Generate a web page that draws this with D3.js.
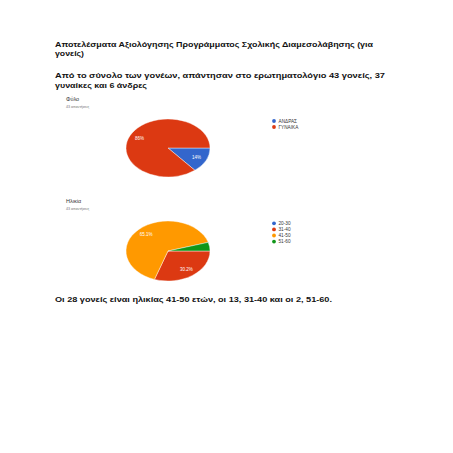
<!DOCTYPE html>
<html>
<head>
<meta charset="utf-8">
<script src="https://cdn.jsdelivr.net/npm/d3@7"></script>
<style>
  body { margin: 0; background: #fff; }
  svg { display: block; font-family: "Liberation Sans", Arial, sans-serif; }
</style>
</head>
<body>
<div id="chart"></div>
<script>
const headerLines = [
    "Αποτελέσματα Αξιολόγησης Προγράμματος Σχολικής Διαμεσολάβησης (για",
    "γονείς)"
];
const introLines = [
    "Από το σύνολο των γονέων, απάντησαν στο ερωτηματολόγιο 43 γονείς, 37",
    "γυναίκες και 6 άνδρες"
];
const footerLine = "Οι 28 γονείς είναι ηλικίας 41-50 ετών, οι 13, 31-40 και οι 2, 51-60.";

const genderTitle = "Φύλο";
const genderCategories = ["ΑΝΔΡΑΣ", "ΓΥΝΑΙΚΑ"];
const genderValues = [6, 37];
const genderLabels = ["14%", "86%"];

const ageTitle = "Ηλικία";
const ageCategories = ["20-30", "31-40", "41-50", "51-60"];
const ageValues = [0, 13, 28, 2];
const ageLabels = ["", "30.2%", "65.1%", "4.7%"];

const responses = "43 απαντήσεις";
const palette = ["#3366cc", "#dc3912", "#ff9900", "#109618"];

const width = 453, height = 453;

const svg = d3.select("#chart")
    .append("svg")
    .attr("width", width)
    .attr("height", height);

svg.append("rect").attr("width", width).attr("height", height).attr("fill", "#fff");

// Stretched document text
function addLine(text, x, y, size, weight, len) {
    svg.append("text")
        .attr("x", x)
        .attr("y", y)
        .attr("font-size", size)
        .attr("font-weight", weight)
        .attr("fill", "#111")
        .attr("textLength", len)
        .attr("lengthAdjust", "spacingAndGlyphs")
        .text(text);
}

addLine(headerLines[0], 55, 47, 8, 600, 318);
addLine(headerLines[1], 55, 56, 8, 600, 29);
addLine(introLines[0], 55, 78, 8, 700, 330);
addLine(introLines[1], 55, 88, 8, 700, 92);
addLine(footerLine, 55, 302, 8, 700, 277);

function drawPie(opts) {
    const { title, cy, values, categories, labels, legendY, legendStep } = opts;
    const cx = 168, rx = 42, ry = opts.ry;

    svg.append("text")
        .attr("x", 66).attr("y", opts.titleY)
        .attr("font-size", 5.5).attr("fill", "#333")
        .text(title);
    svg.append("text")
        .attr("x", 66).attr("y", opts.titleY + 6.5)
        .attr("font-size", 3.6).attr("fill", "#777")
        .text(responses);

    const pie = d3.pie()
        .sort(null)
        .startAngle(Math.PI / 2)
        .endAngle(Math.PI / 2 + 2 * Math.PI);
    const arcs = pie(values);
    const arc = d3.arc().innerRadius(0).outerRadius(rx);
    const labelArc = d3.arc().innerRadius(rx * 0.75).outerRadius(rx * 0.75);

    const g = svg.append("g")
        .attr("transform", `translate(${cx},${cy}) scale(1,${ry / rx})`);

    g.selectAll("path")
        .data(arcs)
        .join("path")
        .attr("d", arc)
        .attr("fill", (d, i) => palette[i])
        .attr("stroke", "#fff")
        .attr("stroke-width", 0.5);

    // labels in unscaled coordinates
    arcs.forEach((d, i) => {
        if (!labels[i] || d.endAngle - d.startAngle < 0.4) return;
        const [lx, ly] = labelArc.centroid(d);
        svg.append("text")
            .attr("x", cx + lx)
            .attr("y", cy + ly * ry / rx + 1.5)
            .attr("text-anchor", "middle")
            .attr("font-size", 4.5)
            .attr("fill", "#fff")
            .text(labels[i]);
    });

    const legend = svg.append("g");
    categories.forEach((c, i) => {
        const y = legendY + i * legendStep;
        legend.append("circle")
            .attr("cx", 274).attr("cy", y).attr("r", 1.9)
            .attr("fill", palette[i]);
        legend.append("text")
            .attr("x", 278.5).attr("y", y + 1.6)
            .attr("font-size", 4.7).attr("fill", "#333")
            .text(c);
    });
}

drawPie({
    title: genderTitle, titleY: 101, cy: 148, ry: 29,
    values: genderValues, categories: genderCategories, labels: genderLabels,
    legendY: 121, legendStep: 6
});

drawPie({
    title: ageTitle, titleY: 203, cy: 251, ry: 30,
    values: ageValues, categories: ageCategories, labels: ageLabels,
    legendY: 223.3, legendStep: 6.1
});
</script>
</body>
</html>
